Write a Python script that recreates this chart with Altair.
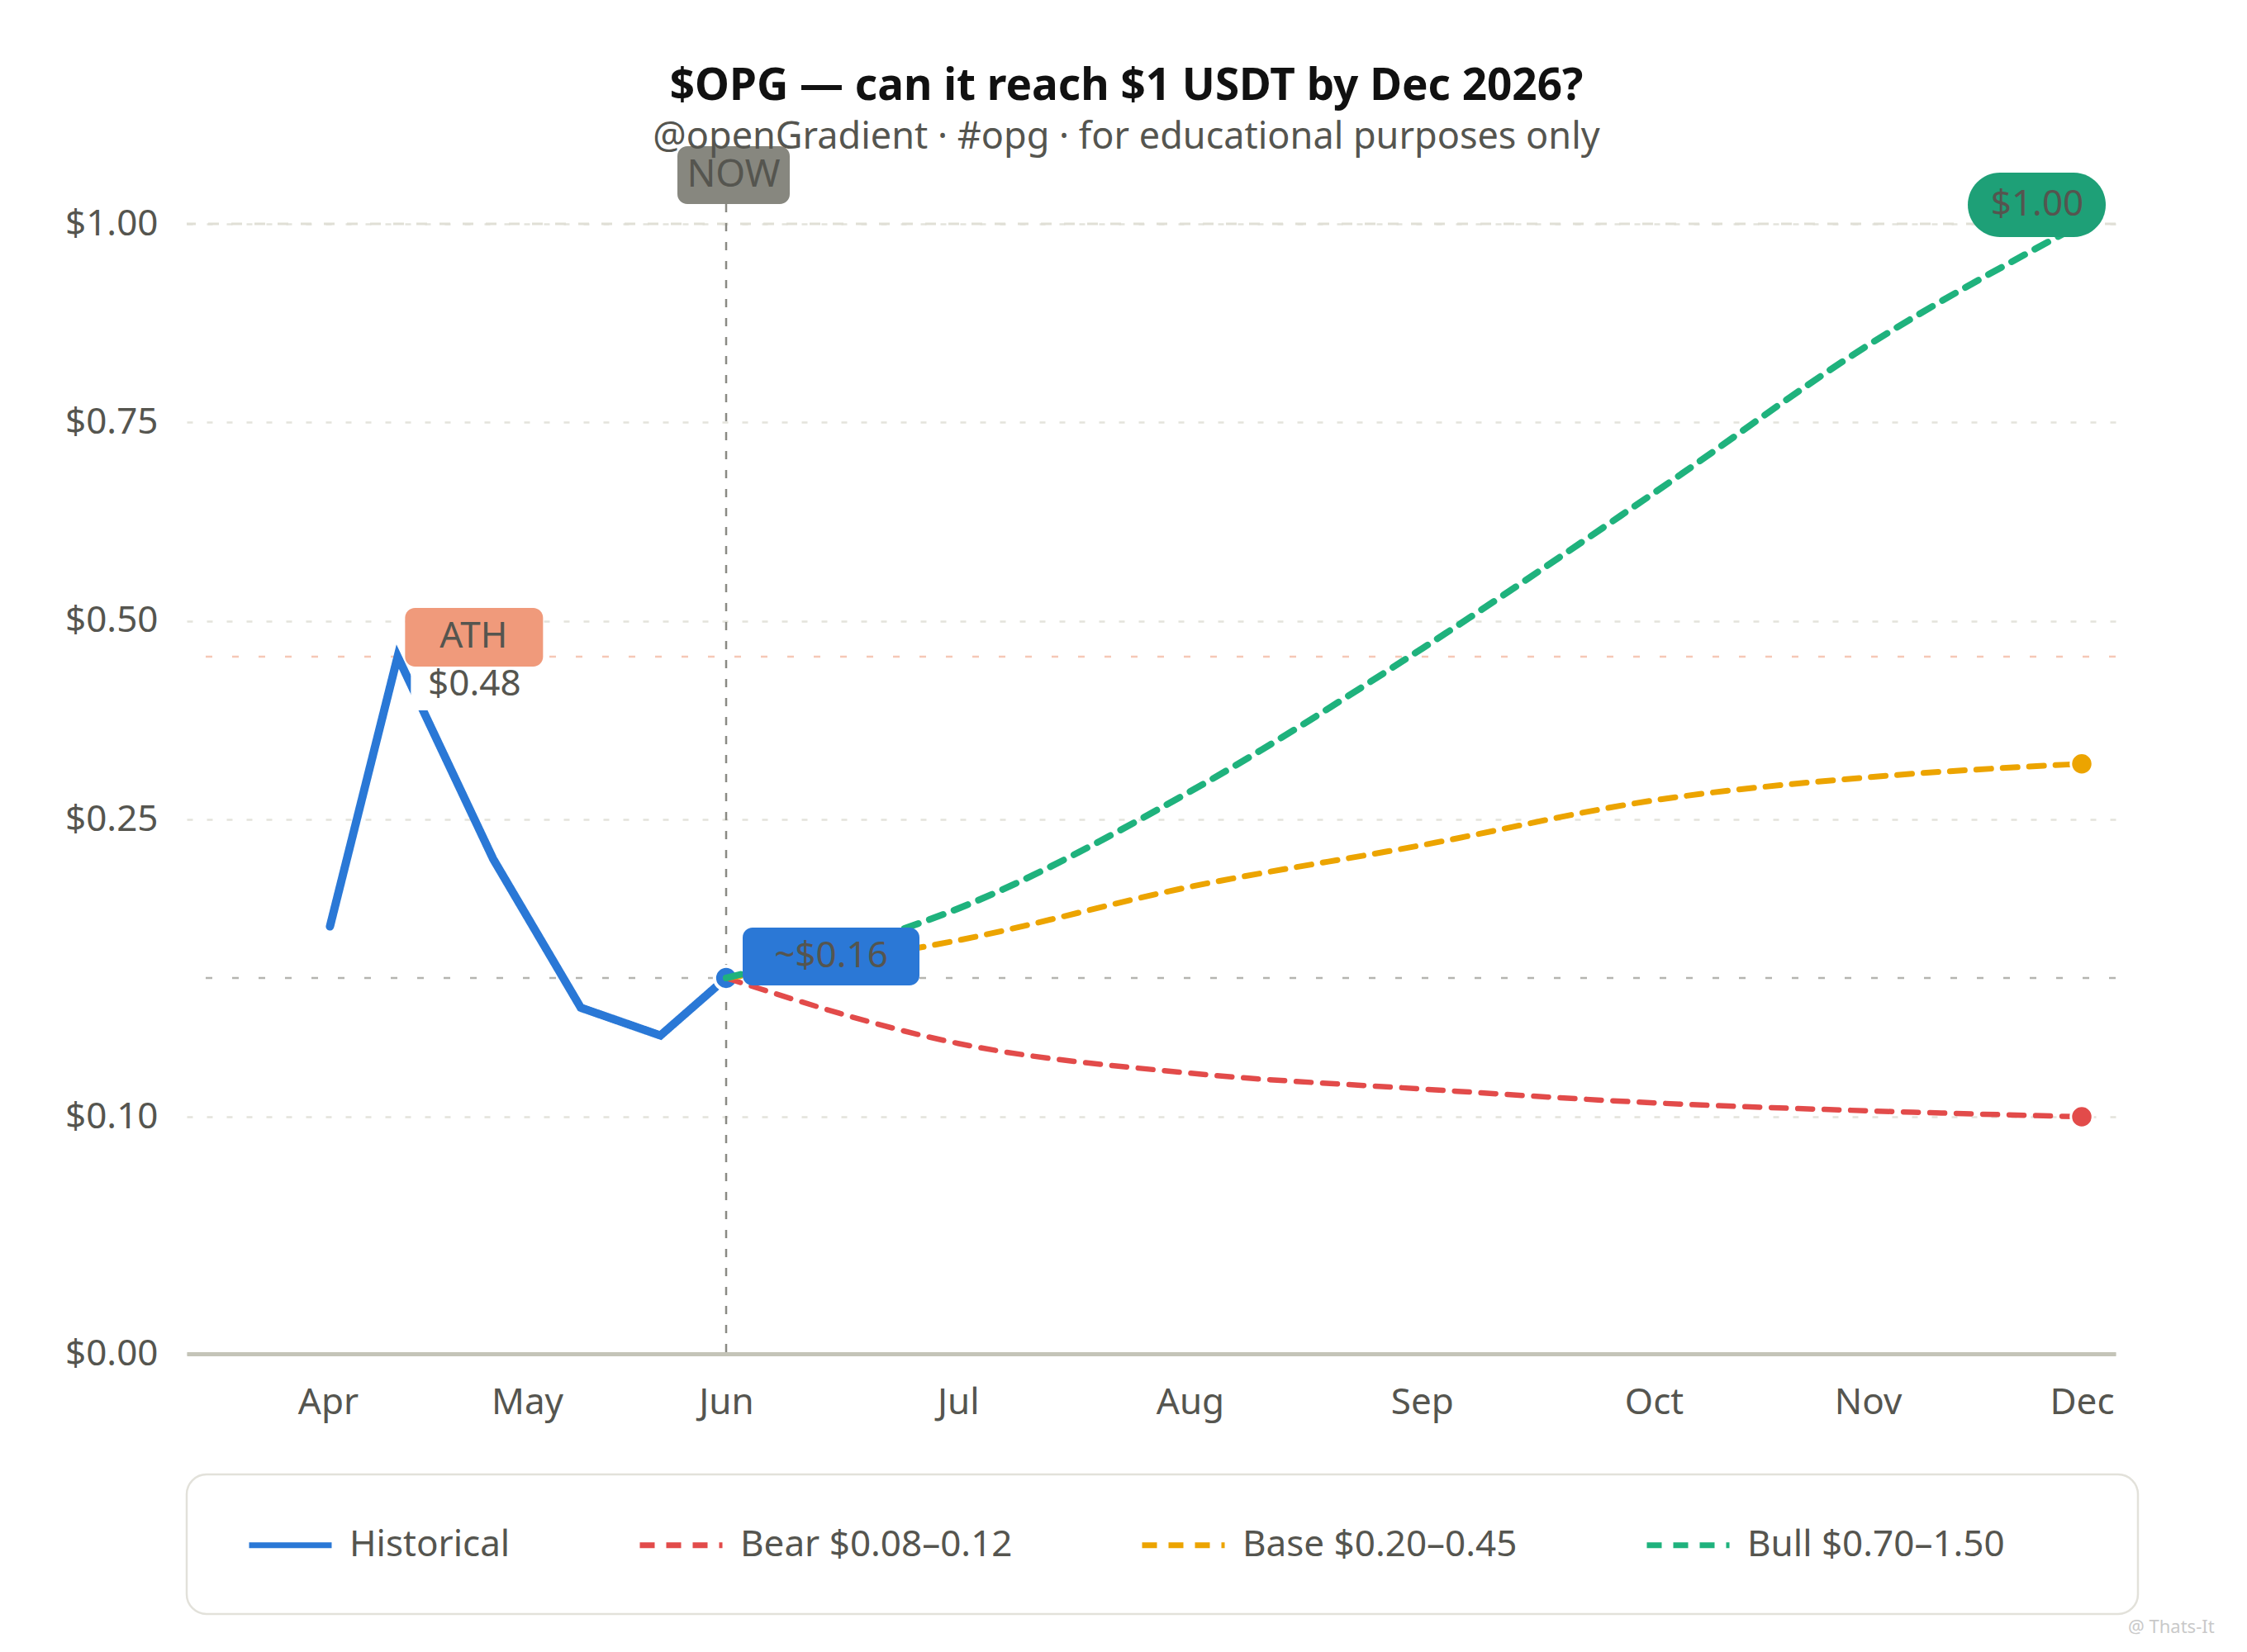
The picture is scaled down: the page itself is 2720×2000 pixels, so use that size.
import altair as alt
import pandas as pd

# ---------------- data ----------------
months = ["Apr", "May", "Jun", "Jul", "Aug", "Sep", "Oct", "Nov", "Dec"]
month_idx = list(range(len(months)))

# historical price (x = fractional month index, Apr = 0)
hist_x = [0.01, 0.35, 0.83, 1.27, 1.67, 2.0]
hist_price = [0.196, 0.455, 0.230, 0.155, 0.141, 0.170]

# projections, one point per month from Jun to Dec
proj_x = [2, 3, 4, 5, 6, 7, 8]
bear = [0.170, 0.137, 0.122, 0.114, 0.107, 0.103, 0.100]
base = [0.170, 0.189, 0.216, 0.237, 0.274, 0.303, 0.320]
bull = [0.170, 0.205, 0.285, 0.465, 0.661, 0.847, 1.000]

series_names = ["Historical", "Bear $0.08–0.12", "Base $0.20–0.45", "Bull $0.70–1.50"]
series_colors = ["#2a78d6", "#e24b4a", "#eca400", "#1fb27d"]
series_dash = [[1, 0], [18, 14], [18, 14], [18, 14]]
series_width = [10, 6.5, 7, 8]

y_ticks = [0, 0.10, 0.25, 0.50, 0.75, 1.00]
target_price = 1.00

title_text = "$OPG — can it reach $1 USDT by Dec 2026?"
subtitle_text = "@openGradient · #opg · for educational purposes only"
ath_tag, ath_value_text = "ATH", "$0.48"
now_tag = "NOW"
current_text = "~$0.16"
target_text = "$1.00"
watermark_text = "@ Thats-It"

FONT = "Noto Sans"
TXT = "#55554f"

# ---------------- tables ----------------
hist_df = pd.DataFrame({"x": hist_x, "price": hist_price, "series": series_names[0]})
proj_df = pd.concat(
    [
        pd.DataFrame({"x": proj_x, "price": vals, "series": name})
        for name, vals in zip(series_names[1:], [bear, base, bull])
    ],
    ignore_index=True,
)
end_df = proj_df[proj_df["x"] == proj_x[-1]]
now_df = hist_df.iloc[[-1]]
ath_df = hist_df.iloc[[1]].assign(tag=ath_tag, val=ath_value_text)
cur_df = now_df.assign(label=current_text)
tgt_df = pd.DataFrame({"x": [proj_x[-1]], "price": [target_price], "label": [target_text]})
nowtag_df = now_df.assign(label=now_tag)
wm_df = pd.DataFrame({"label": [watermark_text]})
box_df = pd.DataFrame({"k": [0]})

# ---------------- scales / axes ----------------
W, H = 2335, 1368
x_scale = alt.Scale(domain=[-0.71, 0, 2, 6, 8, 8.158],
                    range=[0, 171, 653, 1776, 2294, 2335], nice=False, zero=False)
y_scale = alt.Scale(domain=[0, 0.1, 0.25, 1.0], range=[1368, 1081, 721, 0],
                    nice=False, zero=False)

label_expr = "[" + ",".join("'%s'" % m for m in months) + "][datum.value]"
x_axis = alt.Axis(values=month_idx, labelExpr=label_expr, grid=False, ticks=False,
                  domainColor="#c4c4b8", domainWidth=5, labelFontSize=44,
                  labelColor=TXT, labelPadding=37, title=None, labelFont=FONT)
y_axis = alt.Axis(values=y_ticks, format="$.2f", grid=True, gridDash=[7, 17],
                  gridColor="#e4e3dc", gridWidth=2.5, ticks=False, domain=False,
                  labelFontSize=44, labelColor=TXT, labelPadding=35, title=None,
                  labelFont=FONT)

X = alt.X("x:Q", scale=x_scale, axis=x_axis)
Y = alt.Y("price:Q", scale=y_scale, axis=y_axis)

color_enc = alt.Color(
    "series:N",
    scale=alt.Scale(domain=series_names, range=series_colors),
    legend=alt.Legend(
        title=None, orient="none", legendX=72, legendY=1546, direction="horizontal",
        padding=0, symbolType="stroke", symbolSize=100 * 100, symbolStrokeWidth=7,
        labelFontSize=44, labelColor=TXT, labelFont=FONT, labelOffset=18,
        labelLimit=1000, columnPadding=142,
    ),
)
dash_enc = alt.StrokeDash(
    "series:N",
    scale=alt.Scale(domain=series_names, range=series_dash),
    legend=alt.Legend(title=None),
)
color_nolegend = alt.Color("series:N", scale=alt.Scale(domain=series_names, range=series_colors), legend=None)

# ---------------- layers ----------------
ath_rule = alt.Chart(ath_df).mark_rule(color="#f6c8b6", strokeWidth=2.5, strokeDash=[8, 24]).encode(y=Y)
now_rule_h = alt.Chart(now_df).mark_rule(color="#b4b4b0", strokeWidth=2.5, strokeDash=[8, 24]).encode(y=Y)
tgt_rule = alt.Chart(tgt_df).mark_rule(color="#e0dfd6", strokeWidth=3, strokeDash=[13, 15]).encode(y=Y)
now_rule_v = alt.Chart(now_df).mark_rule(color="#8a8a84", strokeWidth=2.5, strokeDash=[10, 13]).encode(
    x=X, y=alt.value(-24), y2=alt.value(H)
)

hist_line = alt.Chart(hist_df).mark_line(strokeWidth=series_width[0], strokeCap="round").encode(
    x=X, y=Y, color=color_enc, strokeDash=dash_enc
)
cur_dot = alt.Chart(now_df).mark_circle(size=800, opacity=1, stroke="white", strokeWidth=4).encode(
    x=X, y=Y, color=color_nolegend
)
proj_layers = [
    alt.Chart(proj_df[proj_df["series"] == name]).mark_line(
        strokeWidth=w, strokeCap="round", interpolate="monotone"
    ).encode(x=X, y=Y, color=color_enc, strokeDash=dash_enc)
    for name, w in zip(series_names[1:], series_width[1:])
]
end_dots = alt.Chart(end_df).mark_circle(size=700, opacity=1, stroke="white", strokeWidth=3).encode(
    x=X, y=Y, color=color_nolegend
)

# ATH annotation
ath_box = alt.Chart(ath_df).mark_rect(color="#f09a7b", cornerRadius=12, xOffset=9, x2Offset=176,
                                      yOffset=-59, y2Offset=12).encode(x=X, x2="x", y=Y, y2="price")
ath_bg = alt.Chart(ath_df).mark_rect(color="white", xOffset=16, x2Offset=170,
                                     yOffset=12, y2Offset=65).encode(x=X, x2="x", y=Y, y2="price")
ath_txt = alt.Chart(ath_df).mark_text(fontSize=44, color=TXT, font=FONT, dx=92, dy=-24).encode(
    x=X, y=Y, text="tag:N")
ath_val = alt.Chart(ath_df).mark_text(fontSize=44, color=TXT, font=FONT, dx=93, dy=34).encode(
    x=X, y=Y, text="val:N")

# NOW tag
now_box = alt.Chart(nowtag_df).mark_rect(color="#87877f", cornerRadius=12, xOffset=-59, x2Offset=77).encode(
    x=X, x2="x", y=alt.value(-94), y2=alt.value(-24))
now_txt = alt.Chart(nowtag_df).mark_text(fontSize=46, color=TXT, font=FONT, dx=9).encode(
    x=X, y=alt.value(-59), text="label:N")

# current price tag
cur_box = alt.Chart(cur_df).mark_rect(color="#2b78d6", cornerRadius=12, xOffset=20, x2Offset=234,
                                      yOffset=-61, y2Offset=9).encode(x=X, x2="x", y=Y, y2="price")
cur_txt = alt.Chart(cur_df).mark_text(fontSize=44, color=TXT, font=FONT, dx=127, dy=-26).encode(
    x=X, y=Y, text="label:N")

# target tag
tgt_box = alt.Chart(tgt_df).mark_rect(color="#1ea077", cornerRadius=39, xOffset=-138, x2Offset=29,
                                      yOffset=-62, y2Offset=16).encode(x=X, x2="x", y=Y, y2="price")
tgt_txt = alt.Chart(tgt_df).mark_text(fontSize=44, color=TXT, font=FONT, dx=-54, dy=-23).encode(
    x=X, y=Y, text="label:N")

# legend frame (decoration)
legend_frame = alt.Chart(box_df).mark_rect(
    fill="white", fillOpacity=0, stroke="#e2e1da", strokeWidth=2.5, cornerRadius=24
).encode(x=alt.value(0), x2=alt.value(2362), y=alt.value(1514), y2=alt.value(1683))

watermark = alt.Chart(wm_df).mark_text(fontSize=22, color="#c9c9c9", font=FONT, align="left").encode(
    x=alt.value(2350), y=alt.value(1699), text="label:N")

chart = alt.layer(
    legend_frame, ath_rule, now_rule_h, tgt_rule, now_rule_v,
    hist_line, cur_dot, *proj_layers, end_dots,
    ath_box, ath_bg, ath_txt, ath_val,
    now_box, now_txt, cur_box, cur_txt, tgt_box, tgt_txt, watermark,
).properties(
    width=W, height=H,
    autosize=alt.AutoSizeParams(type="none"),
    padding={"left": 218, "top": 263, "right": 150, "bottom": 353},
    title=alt.Title(
        text=title_text, subtitle=subtitle_text, anchor="middle", dx=-30, offset=-12,
        font=FONT, fontSize=53, fontWeight="bold", color="#111111",
        subtitleFont=FONT, subtitleFontSize=45, subtitleColor=TXT, subtitlePadding=12,
    ),
).configure(
    font=FONT, background="white", view=alt.ViewConfig(stroke=None)
)

chart.save("out.html", embed_options={"renderer": "svg", "actions": False})
